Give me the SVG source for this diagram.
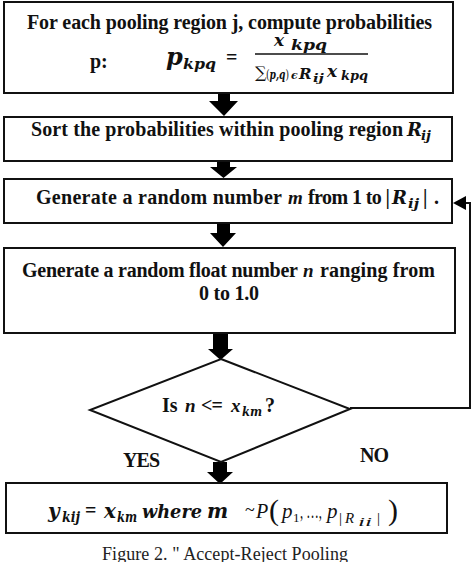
<svg xmlns="http://www.w3.org/2000/svg" width="474" height="562" viewBox="0 0 474 562">
<style>
.box{fill:#fff;stroke:#111;stroke-width:2}
.t{font-family:"Liberation Serif","Times New Roman",serif;font-weight:bold;font-size:20px;fill:#111}
.m{font-family:"DejaVu Serif","Liberation Serif",serif;font-weight:bold;font-style:italic;fill:#111}
.i{font-family:"Liberation Serif","Times New Roman",serif;font-weight:bold;font-style:italic;font-size:19px;fill:#111}
.u{font-family:"DejaVu Serif","Liberation Serif",serif;font-weight:normal;font-style:normal;fill:#111}
.mr{font-family:"Liberation Serif","Times New Roman",serif;font-style:italic;font-weight:normal;fill:#111}
.r{font-family:"Liberation Serif","Times New Roman",serif;font-style:normal;font-weight:normal;fill:#111}
.arr{fill:#000}
.line{fill:none;stroke:#111;stroke-width:2}
.cap{font-family:"Liberation Serif","Times New Roman",serif;font-size:18px;fill:#222}
</style>
<rect width="474" height="562" fill="#fff"/>
<g id="connectors">
<path class="arr" d="M218,93H230V101H238L224,116L209,101H218Z"/>
<path class="arr" d="M217,161H230V167H237L223.5,178L210,167H217Z"/>
<path class="arr" d="M217,223H230V233H236L223,247L210,233H217Z"/>
<path class="arr" d="M213,333H228V349H233L220.5,360L208,349H213Z"/>
<path class="arr" d="M213,462H227V472H233L220,484L207,472H213Z"/>
<path class="line" d="M350,408H470V203H462"/>
<path class="arr" d="M453,203L466,196V210Z"/>
</g>
<g id="n1">
<rect class="box" x="4" y="2" width="449" height="91"/>
<text class="t" x="27" y="29" textLength="405">For each pooling region j, compute probabilities</text>
<text class="t" x="90" y="68">p:</text>
<text class="m" x="166" y="65" font-size="24">p</text>
<text class="m" x="183" y="69" font-size="15" textLength="33" lengthAdjust="spacingAndGlyphs">kpq</text>
<text class="t" x="226" y="64" font-size="24">=</text>
<text class="m" x="274" y="46" font-size="17">x</text>
<text class="m" x="291" y="50" font-size="14" textLength="36" lengthAdjust="spacingAndGlyphs">kpq</text>
<line x1="255" y1="54" x2="368" y2="54" stroke="#111" stroke-width="1.5"/>
<text class="u" x="255" y="78" font-size="16">∑</text>
<text class="u" x="266" y="79" font-size="12" textLength="23" lengthAdjust="spacingAndGlyphs">(<tspan class="m">p,q</tspan>)</text>
<text class="m" x="291" y="79" font-size="11">ϵ</text>
<text class="m" x="299" y="79" font-size="15">R</text>
<text class="m" x="313" y="82" font-size="11" textLength="11" lengthAdjust="spacingAndGlyphs">ij</text>
<text class="m" x="327" y="77" font-size="17">x</text>
<text class="m" x="341" y="80" font-size="13" textLength="27" lengthAdjust="spacingAndGlyphs">kpq</text>
</g>
<g id="n2">
<rect class="box" x="4" y="117" width="448" height="44"/>
<text class="t" x="31" y="136" textLength="372">Sort the probabilities within pooling region</text>
<text class="m" x="407" y="136" font-size="18">R</text>
<text class="m" x="421" y="140" font-size="12" textLength="10" lengthAdjust="spacingAndGlyphs">ij</text>
</g>
<g id="n3">
<rect class="box" x="4" y="179" width="448" height="44"/>
<text class="t" x="36" y="204" textLength="246">Generate a random number</text>
<text class="i" x="288" y="204" font-size="18">m</text>
<text class="t" x="308" y="204" textLength="82">from 1 to |</text>
<text class="m" x="392" y="204" font-size="18">R</text>
<text class="m" x="408" y="208" font-size="12" textLength="11" lengthAdjust="spacingAndGlyphs">ij</text>
<text class="t" x="423" y="204" textLength="16">|.</text>
</g>
<g id="n4">
<rect class="box" x="4" y="248" width="451" height="85"/>
<text class="t" x="22" y="277" textLength="276">Generate a random float number</text>
<text class="i" x="303" y="277">n</text>
<text class="t" x="320" y="277" textLength="115">ranging from</text>
<text class="t" x="199" y="300" textLength="60">0 to 1.0</text>
</g>
<g id="n5">
<path class="box" d="M221,359L350,409L221,462L90,410Z"/>
<text class="t" x="162" y="412">Is</text>
<text class="i" x="185" y="412">n</text>
<text class="t" x="201" y="412" textLength="22">&lt;=</text>
<text class="i" x="231" y="412">x</text>
<text class="m" x="242" y="416" font-size="13" textLength="20" lengthAdjust="spacingAndGlyphs">km</text>
<text class="t" x="265" y="412">?</text>
</g>
<g id="labels">
<text class="t" x="123" y="467" textLength="37">YES</text>
<text class="t" x="360" y="462" textLength="29">NO</text>
</g>
<g id="n6">
<rect class="box" x="6" y="483" width="441" height="50"/>
<text class="m" x="48" y="518" font-size="20">y</text>
<text class="m" x="62" y="522" font-size="14" textLength="18" lengthAdjust="spacingAndGlyphs">kij</text>
<text class="t" x="85" y="517" font-size="22">=</text>
<text class="m" x="104" y="518" font-size="20">x</text>
<text class="m" x="117" y="522" font-size="14" textLength="20" lengthAdjust="spacingAndGlyphs">km</text>
<text class="m" x="142" y="518" font-size="18" textLength="60" lengthAdjust="spacingAndGlyphs">where</text>
<text class="m" x="207" y="518" font-size="20">m</text>
<text class="r" x="245" y="516" font-size="18">~</text>
<text class="mr" x="256" y="518" font-size="20">P</text>
<text class="r" x="269" y="520" font-size="30">(</text>
<text class="mr" x="282" y="518" font-size="21">p</text>
<text class="r" x="293" y="522" font-size="13">1</text>
<text class="r" x="300" y="518" font-size="20" textLength="22" lengthAdjust="spacingAndGlyphs">, …,</text>
<text class="mr" x="327" y="518" font-size="21">p</text>
<text class="r" x="339" y="523" font-size="15">|</text>
<text class="mr" x="345" y="523" font-size="15">R</text>
<text class="mr" x="358" y="526" font-size="12" textLength="14" lengthAdjust="spacingAndGlyphs">ii</text>
<text class="r" x="377" y="523" font-size="15">|</text>
<text class="r" x="388" y="520" font-size="30">)</text>
</g>
<text class="cap" x="102" y="560" textLength="246">Figure 2. " Accept-Reject Pooling</text>
</svg>
